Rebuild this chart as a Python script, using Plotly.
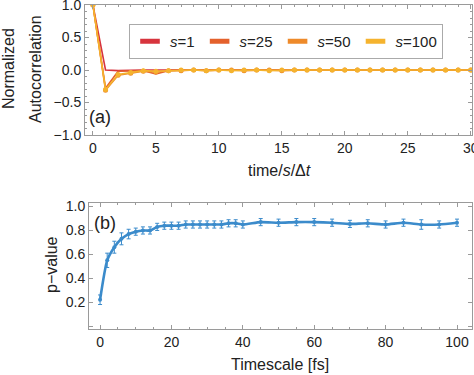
import plotly.graph_objects as go

W, H = 474, 375

# ---- panel (a) data ----
lag = list(range(0, 31))
s1 = [1.0, 0.0, -0.01, 0.0, 0.0, 0.0, 0.0, 0.0, 0.0, 0.0, 0.0, 0.0, 0.0, 0.0, 0.0, 0.0,
      0.0, 0.0, 0.0, 0.0, 0.0, 0.0, 0.0, 0.0, 0.0, 0.0, 0.0, 0.0, 0.0, 0.0, 0.0]
s25 = [1.0, -0.28, -0.02, -0.02, -0.01, -0.06, -0.01, 0.0, 0.0, -0.01, 0.0, -0.01, 0.0, -0.01, 0.0, 0.0,
       0.0, -0.01, 0.0, 0.0, 0.0, 0.0, 0.0, 0.0, 0.0, 0.0, 0.0, 0.0, 0.0, 0.0, 0.0]
s50 = [1.0, -0.31, -0.08, -0.05, -0.02, -0.03, -0.01, -0.01, 0.0, -0.01, 0.0, 0.0, -0.01, 0.0, 0.0, -0.01,
       0.0, 0.0, 0.0, 0.0, 0.0, 0.0, 0.0, 0.0, 0.0, 0.0, 0.0, 0.0, 0.0, 0.0, 0.0]
s100 = [1.0, -0.30, -0.07, -0.04, -0.01, -0.02, -0.01, 0.0, 0.0, -0.01, 0.0, -0.01, 0.0, 0.0, -0.01, 0.0,
        0.0, 0.0, 0.0, 0.0, 0.0, 0.0, 0.0, 0.0, 0.0, 0.0, 0.0, 0.0, 0.0, 0.0, 0.0]
series_names = ["<i>s</i>=1", "<i>s</i>=25", "<i>s</i>=50", "<i>s</i>=100"]
series_colors = ["#d7343d", "#e4612c", "#ee8a2a", "#f5b32e"]

# ---- panel (b) data ----
timescale = [0, 2, 4, 6, 8, 10, 12, 14, 16, 18, 20, 22, 24, 26, 28, 30, 32, 34, 36, 38, 40,
             45, 50, 55, 60, 65, 70, 75, 80, 85, 90, 95, 100]
pvalue = [0.22, 0.55, 0.66, 0.73, 0.77, 0.79, 0.80, 0.80, 0.83, 0.84, 0.84, 0.84, 0.85, 0.85, 0.85,
          0.85, 0.85, 0.85, 0.86, 0.86, 0.85, 0.87, 0.865, 0.87, 0.87, 0.865, 0.855, 0.86, 0.85,
          0.865, 0.85, 0.85, 0.865]
perr = [0.04, 0.06, 0.05, 0.05, 0.04, 0.03, 0.03, 0.03, 0.03, 0.03, 0.03, 0.03, 0.03, 0.03, 0.03,
        0.03, 0.03, 0.03, 0.03, 0.03, 0.03, 0.03, 0.03, 0.03, 0.03, 0.03, 0.03, 0.03, 0.03,
        0.03, 0.04, 0.03, 0.03]

FONT = "Liberation Sans, Arial, sans-serif"
AXC = "#9a9a9a"

fig = go.Figure()

for name, ys, c in zip(series_names, [s1, s25, s50, s100], series_colors):
    fig.add_trace(go.Scatter(
        x=lag, y=ys, mode="lines+markers" if name.endswith("100") or name.endswith("50") else "lines",
        line=dict(color=c, width=1.6), marker=dict(size=5, color=c),
        showlegend=False, xaxis="x", yaxis="y"))

for name, c in zip(series_names, series_colors):
    fig.add_trace(go.Scatter(
        x=[None], y=[None], mode="markers", name=name,
        marker=dict(symbol="line-ew", size=14, line=dict(width=6, color=c)),
        xaxis="x", yaxis="y"))

fig.add_trace(go.Scatter(
    x=timescale, y=pvalue, mode="lines+markers",
    line=dict(color="#3b8bcb", width=2.6, shape="spline", smoothing=0.6),
    marker=dict(size=4, color="#3b8bcb"),
    error_y=dict(type="data", array=perr, color="#3b8bcb", thickness=1, width=2),
    showlegend=False, xaxis="x2", yaxis="y2"))

def px_x(p):
    return p / W

def px_y(p):
    return 1 - p / H

common = dict(showline=True, linecolor=AXC, linewidth=1, mirror="ticks", ticks="inside",
              tickcolor=AXC, ticklen=4, showgrid=False, zeroline=False, ticklabeloverflow="allow",
              tickfont=dict(family=FONT, size=14, color="#222"))

fig.update_layout(
    width=W, height=H, margin=dict(l=0, r=0, t=0, b=0, autoexpand=False),
    paper_bgcolor="white", plot_bgcolor="white",
    font=dict(family=FONT, color="#222"),
    xaxis=dict(domain=[px_x(85), px_x(472)], range=[-0.63, 30.1], tickvals=[0, 5, 10, 15, 20, 25, 30],
               minor=dict(ticks="inside", ticklen=2, dtick=1, tickcolor=AXC), anchor="y", **common),
    yaxis=dict(domain=[px_y(135), px_y(5)], range=[-1.0, 1.0],
               tickvals=[-1.0, -0.5, 0.0, 0.5, 1.0], ticktext=["−1.0", "−0.5", "0.0", "0.5", "1.0"],
               minor=dict(ticks="inside", ticklen=2, dtick=0.1, tickcolor=AXC), anchor="x", **common),
    xaxis2=dict(domain=[px_x(89), px_x(472)], range=[-3.1, 104.2], tickvals=[0, 20, 40, 60, 80, 100],
                minor=dict(ticks="inside", ticklen=2, dtick=5, tickcolor=AXC), anchor="y2", **common),
    yaxis2=dict(domain=[px_y(329), px_y(203)], range=[-0.025, 1.03],
                tickvals=[0, 0.2, 0.4, 0.6, 0.8, 1.0], ticktext=["", "0.2", "0.4", "0.6", "0.8", "1.0"],
                anchor="x2", **common),
    legend=dict(orientation="h", x=px_x(129), y=px_y(24), xanchor="left", yanchor="top",
                bgcolor="white", bordercolor="#aaaaaa", borderwidth=1,
                font=dict(family=FONT, size=15, color="#222"), itemwidth=30),
)

ann = [
    dict(text="Normalized", x=px_x(9), y=px_y(69), textangle=-90, font=dict(size=16)),
    dict(text="Autocorrelation", x=px_x(36), y=px_y(69), textangle=-90, font=dict(size=16)),
    dict(text="time/<i>s</i>/Δ<i>t</i>", x=px_x(279), y=px_y(170), font=dict(size=16)),
    dict(text="(a)", x=px_x(100), y=px_y(117), font=dict(size=18)),
    dict(text="(b)", x=px_x(105), y=px_y(223), font=dict(size=18)),
    dict(text="p−value", x=px_x(51), y=px_y(265), textangle=-90, font=dict(size=16)),
    dict(text="Timescale [fs]", x=px_x(280), y=px_y(364), font=dict(size=16)),
]
for a in ann:
    a.update(xref="paper", yref="paper", showarrow=False, xanchor="center", yanchor="middle")
    a["font"].update(family=FONT, color="#222")
fig.update_layout(annotations=ann)

fig.write_html("out.html", config={"displayModeBar": False},
               post_script="document.body.style.margin='0';document.body.style.overflow='hidden';")
